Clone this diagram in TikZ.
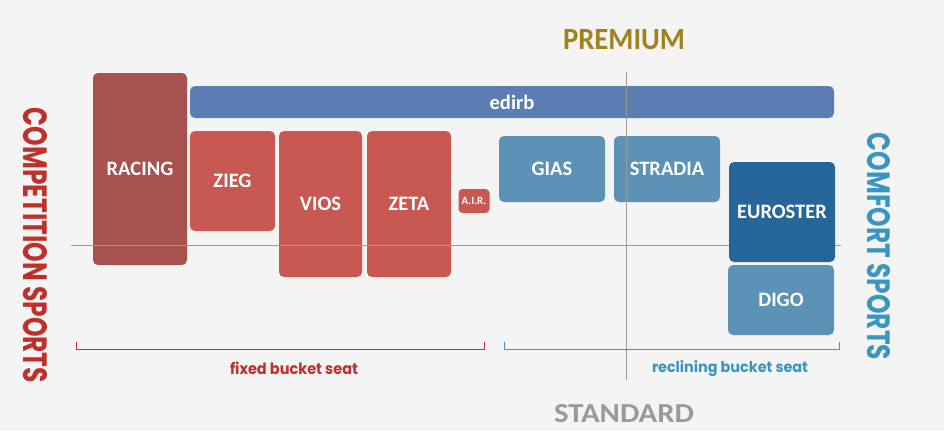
\documentclass[tikz,border=0pt]{standalone}
\usepackage{fontspec}
\usepackage{graphicx}
\setmainfont{Carlito}
\newfontfamily\geofont{Poppins}
\usetikzlibrary{positioning}

\definecolor{bgcol}{HTML}{F4F4F4}
\definecolor{axiscol}{HTML}{9A9A9A}
\definecolor{racingcol}{HTML}{A85250}
\definecolor{fixedcol}{HTML}{C85852}
\definecolor{edirbcol}{HTML}{5C7DB2}
\definecolor{reclcol}{HTML}{5B92B5}
\definecolor{eurocol}{HTML}{266699}
\definecolor{compred}{HTML}{C0302A}
\definecolor{comfblue}{HTML}{3A95C0}
\definecolor{premcol}{HTML}{A0821E}
\definecolor{stdcol}{HTML}{9A9A9A}

\tikzset{
  seat/.style={rounded corners=5pt, text=white, inner sep=0pt,
    font=\bfseries\fontsize{20.5}{20.5}\selectfont},
  axis/.style={draw=axiscol, line width=0.8pt},
  bracket/.style={line width=1pt},
}

\begin{document}
\begin{tikzpicture}[x=1pt, y=-1pt]

    % Background
    \fill[bgcol] (0,0) rectangle (944,431);
    \useasboundingbox (0,0) rectangle (944,431);

    % --- Quadrant labels ---
    \node[text=premcol, inner sep=0pt] (premium) at (624,40)
        {\resizebox{122pt}{20pt}{\bfseries PREMIUM}};
    \node[text=stdcol, inner sep=0pt] (standard) at (624,414)
        {\resizebox{140pt}{18pt}{\bfseries STANDARD}};
    \node[text=compred, rotate=-90, inner sep=0pt] (competition) at (35,245.5)
        {\resizebox{275pt}{24pt}{\geofont\bfseries COMPETITION SPORTS}};
    \node[text=comfblue, rotate=-90, inner sep=0pt] (comfort) at (878.5,246.5)
        {\resizebox{227pt}{23pt}{\geofont\bfseries COMFORT SPORTS}};

    % --- Seats ---
    \node[seat, fill=racingcol, minimum width=94pt, minimum height=192pt] (racing) at (140,169) {RACING};
    \node[seat, fill=edirbcol, minimum width=644pt, minimum height=32pt] (edirb) at (512,102) {edirb};
    \node[seat, fill=fixedcol, minimum width=85pt, minimum height=100pt] (zieg) at (232.5,181) {ZIEG};
    \node[seat, fill=fixedcol, minimum width=83pt, minimum height=146pt] (vios) at (320.5,204) {VIOS};
    \node[seat, fill=fixedcol, minimum width=84pt, minimum height=146pt] (zeta) at (409,204) {ZETA};
    \node[seat, fill=fixedcol, minimum width=31pt, minimum height=24pt, rounded corners=4pt,
        font=\bfseries\fontsize{11}{11}\selectfont] (air) at (474,201) {A.I.R.};
    \node[seat, fill=reclcol, minimum width=106pt, minimum height=66pt] (gias) at (552,169) {GIAS};
    \node[seat, fill=reclcol, minimum width=106pt, minimum height=66pt] (stradia) at (667,169) {STRADIA};
    \node[seat, fill=reclcol, minimum width=106pt, minimum height=70pt] (digo) at (781,300) {DIGO};

    % Axes
    \draw[axis] (71,245) -- (841,245);
    \draw[axis] (626,72) -- (626,380);

    \node[seat, fill=eurocol, minimum width=106pt, minimum height=100pt] (euroster) at (782,212) {EUROSTER};

    % --- Seat type brackets ---
    \draw[bracket, compred] (76,342) |- (484,349) -- (484,342);
    \node[text=compred, inner sep=0pt, anchor=base] (fixed) at (294,374)
        {\resizebox{128pt}{12.5pt}{\geofont\bfseries fixed bucket seat}};

    \draw[bracket, comfblue] (504,342) |- (839,349) -- (839,342);
    \node[text=comfblue, inner sep=0pt, anchor=base] (reclining) at (730,372)
        {\resizebox{156pt}{12pt}{\geofont\bfseries reclining bucket seat}};

\end{tikzpicture}
\end{document}
